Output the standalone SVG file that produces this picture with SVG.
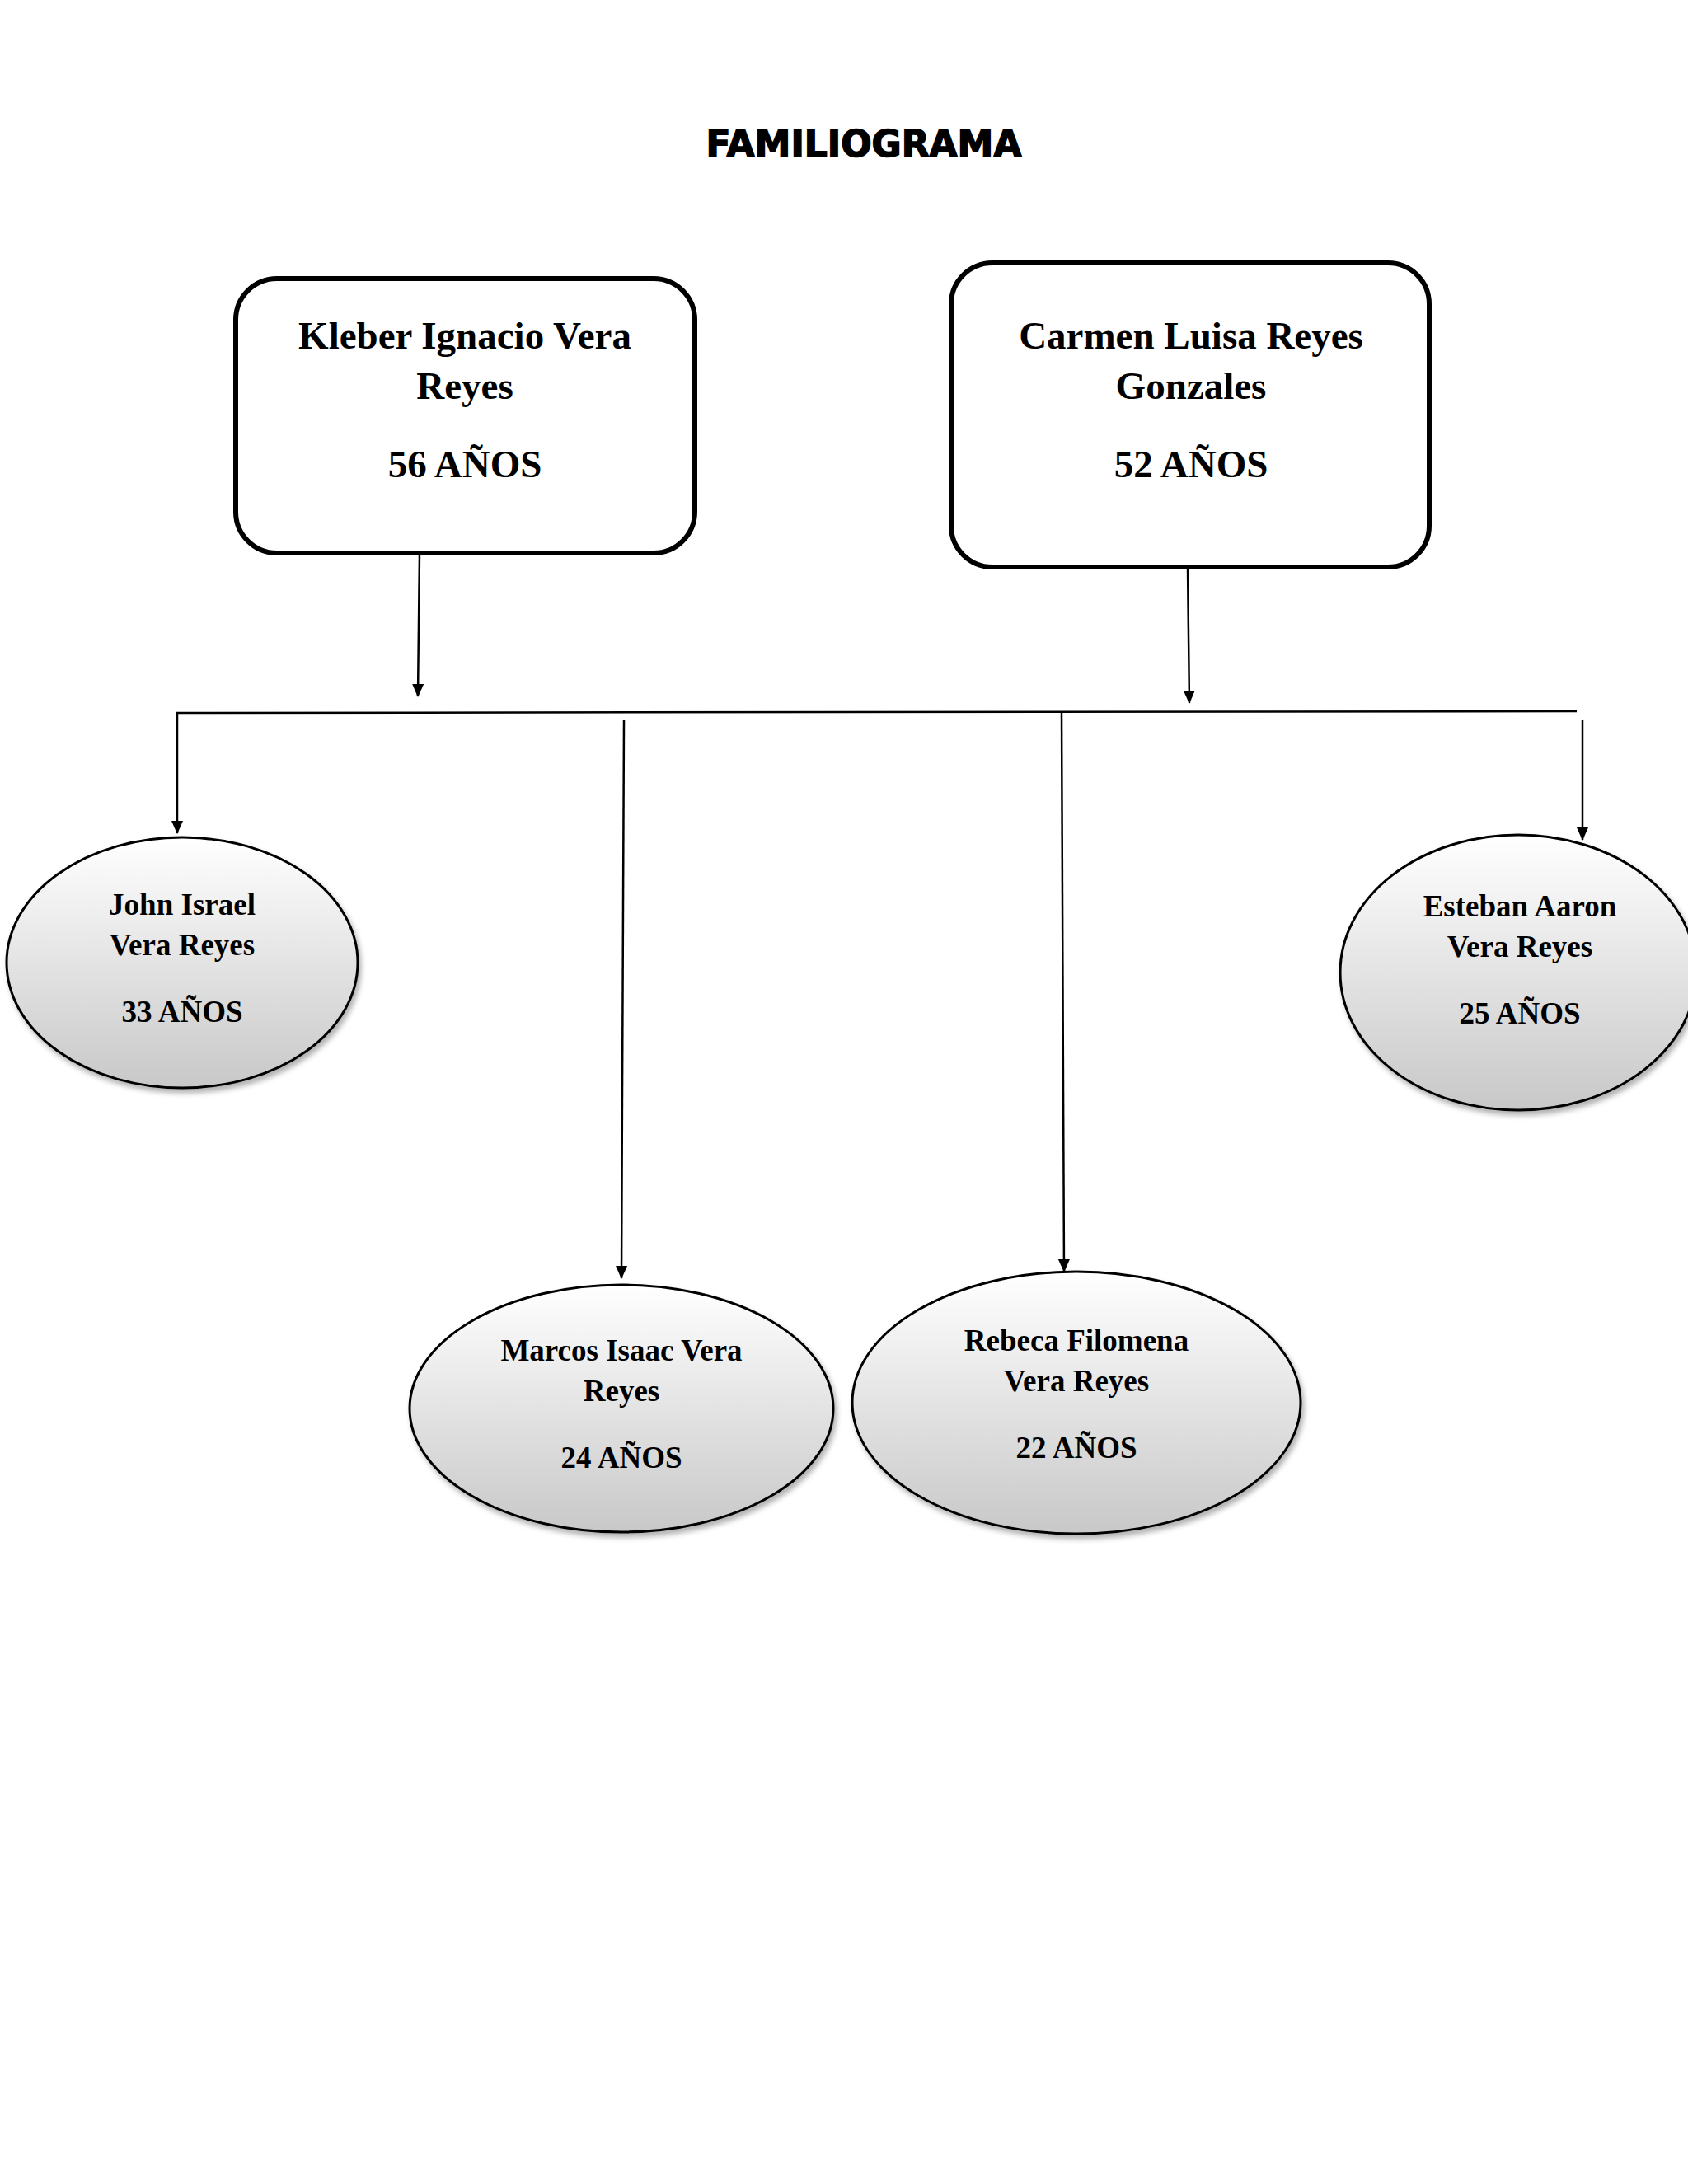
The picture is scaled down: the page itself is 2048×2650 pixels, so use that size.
<svg xmlns="http://www.w3.org/2000/svg" width="2048" height="2650" viewBox="0 0 2048 2650">
<style>
.box{fill:#fff;stroke:#000;stroke-width:6}
.ell{fill:url(#g);stroke:#000;stroke-width:3}
.pt{font-family:"Liberation Serif",serif;font-weight:bold;font-size:47px;text-anchor:middle}
.ct{font-family:"Liberation Serif",serif;font-weight:bold;font-size:37px;text-anchor:middle}
.ln{stroke:#000;stroke-width:2.5;fill:none}
</style>
<defs>
<linearGradient id="g" x1="0" y1="0" x2="0" y2="1"><stop offset="0" stop-color="#fff"/><stop offset="1" stop-color="#c8c8c8"/></linearGradient>
<marker id="a" markerWidth="16" markerHeight="16" refX="15" refY="8" orient="auto" markerUnits="userSpaceOnUse" viewBox="0 0 16 16"><path d="M0,1L16,8L0,15z" fill="#000"/></marker>
<filter id="s"><feDropShadow dx="3" dy="5" stdDeviation="3" flood-opacity="0.3"/></filter>
</defs>
<rect width="2048" height="2650" fill="#fff"/>
<text x="1048" y="190" font-family="DejaVu Sans,sans-serif" font-weight="bold" font-size="44" text-anchor="middle" stroke="#000" stroke-width="1.5">FAMILIOGRAMA</text>
<g id="connectors">
<line class="ln" x1="509" y1="671" x2="507" y2="845" marker-end="url(#a)"/>
<line class="ln" x1="1441" y1="688" x2="1443" y2="853" marker-end="url(#a)"/>
<line class="ln" x1="213" y1="865" x2="1913" y2="863"/>
<line class="ln" x1="215" y1="865" x2="215" y2="1011" marker-end="url(#a)"/>
<line class="ln" x1="757" y1="874" x2="754" y2="1551" marker-end="url(#a)"/>
<line class="ln" x1="1288" y1="865" x2="1291" y2="1543" marker-end="url(#a)"/>
<line class="ln" x1="1920" y1="874" x2="1920" y2="1019" marker-end="url(#a)"/>
</g>
<g id="kleber"><rect class="box" x="286" y="338" width="557" height="333" rx="50"/>
<text class="pt" x="564" y="423">Kleber Ignacio Vera</text><text class="pt" x="564" y="484">Reyes</text><text class="pt" x="564" y="579">56 AÑOS</text></g>
<g id="carmen"><rect class="box" x="1154" y="319" width="580" height="369" rx="50"/>
<text class="pt" x="1445" y="423">Carmen Luisa Reyes</text><text class="pt" x="1445" y="484">Gonzales</text><text class="pt" x="1445" y="579">52 AÑOS</text></g>
<g id="john"><ellipse class="ell" filter="url(#s)" cx="221" cy="1168" rx="213" ry="152"/>
<text class="ct" x="221" y="1110">John Israel</text><text class="ct" x="221" y="1159">Vera Reyes</text><text class="ct" x="221" y="1240">33 AÑOS</text></g>
<g id="esteban"><ellipse class="ell" filter="url(#s)" cx="1842" cy="1180" rx="216" ry="167"/>
<text class="ct" x="1844" y="1112">Esteban Aaron</text><text class="ct" x="1844" y="1161">Vera Reyes</text><text class="ct" x="1844" y="1242">25 AÑOS</text></g>
<g id="marcos"><ellipse class="ell" filter="url(#s)" cx="754" cy="1709" rx="257" ry="150"/>
<text class="ct" x="754" y="1651">Marcos Isaac Vera</text><text class="ct" x="754" y="1700">Reyes</text><text class="ct" x="754" y="1781">24 AÑOS</text></g>
<g id="rebeca"><ellipse class="ell" filter="url(#s)" cx="1306" cy="1702" rx="272" ry="159"/>
<text class="ct" x="1306" y="1639">Rebeca Filomena</text><text class="ct" x="1306" y="1688">Vera Reyes</text><text class="ct" x="1306" y="1769">22 AÑOS</text></g>
</svg>
